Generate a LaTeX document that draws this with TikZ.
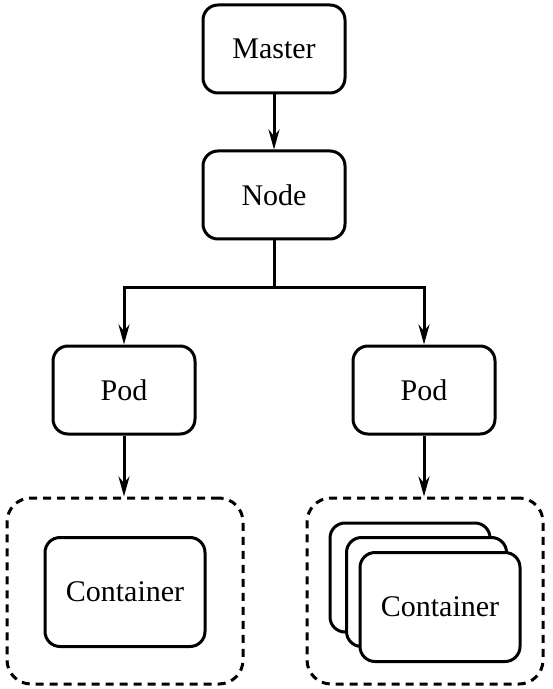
\documentclass[tikz,border=0pt]{standalone}
\usepackage{fontspec}
\setmainfont{Liberation Serif}
\usetikzlibrary{arrows.meta}
\begin{document}
\begin{tikzpicture}[x=0.5pt,y=-0.5pt,
  box/.style={draw, line width=1.5pt, rounded corners=7.5pt, fill=white,
    minimum width=71pt, minimum height=44pt, inner sep=0pt,
    font=\fontsize{15}{18}\selectfont},
  cbox/.style={box, minimum width=80pt, minimum height=54.5pt},
  group/.style={draw, line width=1.5pt, dash pattern=on 4pt off 3pt,
    rounded corners=12pt, minimum width=118pt, minimum height=93pt, inner sep=0pt},
  arr/.style={line width=1.5pt, -{Stealth[length=10pt,width=5.5pt]}}]
\useasboundingbox (0,0) rectangle (552,689);
\node[box] (master) at (274,49) {Master};
\node[box] (node) at (274,195) {Node};
\node[box] (podl) at (124,390) {Pod};
\node[box] (podr) at (424,390) {Pod};
\node[group] (gl) at (125,591) {};
\node[group] (gr) at (425,591) {};
\node[cbox] (cl) at (125,592) {Container};
\node[cbox] (c1) at (410,577.5) {};
\node[cbox] (c2) at (426.5,592) {};
\node[cbox] (c3) at (440,607) {Container};
\coordinate (split) at (274,287);
\draw[arr] (master) -- (node);
\draw[line width=1.5pt] (node) -- (split);
\draw[arr] (split) -| (podl);
\draw[arr] (split) -| (podr);
\draw[arr] (podl) -- (podl |- gl.north);
\draw[arr] (podr) -- (podr |- gr.north);
\end{tikzpicture}
\end{document}
